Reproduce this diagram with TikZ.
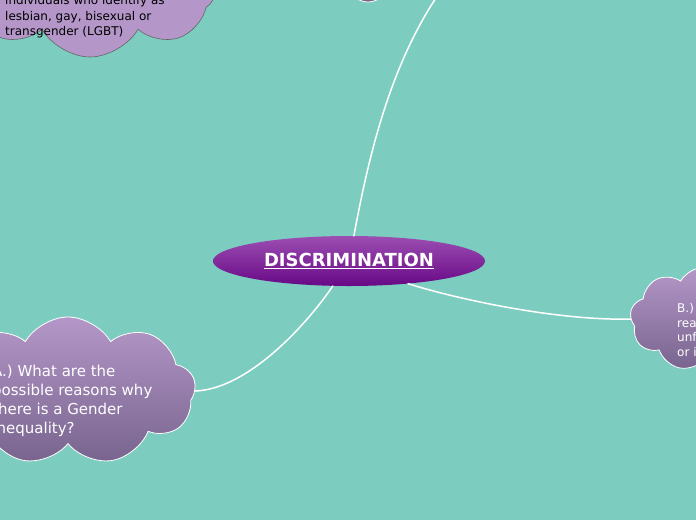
\documentclass[tikz,border=0pt]{standalone}
\usepackage{fontspec}
\setmainfont{DejaVu Sans}
\usetikzlibrary{shapes.geometric,shapes.symbols}
\definecolor{sea}{RGB}{124,205,192}
\definecolor{plumtop}{RGB}{156,78,178}
\definecolor{plumbot}{RGB}{104,8,134}
\definecolor{lilac}{RGB}{180,151,200}
\definecolor{lilacdark}{RGB}{120,100,142}
\tikzset{
  hub/.style      = {ellipse, minimum width=272pt, minimum height=50pt, top color=plumtop, bottom color=plumbot, text=white, font=\fontsize{18}{20}\selectfont\bfseries},
  puff/.style     = {cloud, cloud puffs=9, cloud puff arc=120, draw=white, line width=0.8pt, top color=lilac, bottom color=lilacdark},
  flatpuff/.style = {cloud, cloud puffs=8, cloud puff arc=120, draw=black!60, line width=0.6pt, fill=lilac},
  note/.style     = {anchor=north west, inner sep=0pt, align=left},
  branch/.style   = {draw=white, line width=1.5pt, line cap=round},
}

\begin{document}
\begin{tikzpicture}[x=1pt,y=-1pt]
    \fill[sea] (0,0) rectangle (696,520);
    \useasboundingbox (0,0) rectangle (696,520);
    \clip (0,0) rectangle (696,520);

    \node[flatpuff, minimum width=250pt, minimum height=130pt] (lgbt) at (90,-8) {};
    \node[puff, cloud puffs=12, minimum width=160pt, minimum height=86pt] (top) at (368,-41) {};
    \node[puff, minimum width=255pt, minimum height=148pt] (gender) at (68,391) {};
    \node[puff, minimum width=150pt, minimum height=104pt] (reason) at (705,319) {};
    \node[hub] (disc) at (349,261) {\raisebox{-1.5pt}{\underline{DISCRIMINATION}}};

    \node[note, font=\fontsize{12}{15.3}\selectfont] (lgbttext) at (5,-4.5) {individuals who identify as\\lesbian, gay, bisexual or\\transgender (LGBT)};
    \node[note, text=white, font=\fontsize{15}{19}\selectfont] (gendertext) at (-8,364.6) {A.) What are the\\possible reasons why\\there is a Gender\\Inequality?};
    \node[note, text=white, font=\fontsize{12}{14.5}\selectfont] (reasontext) at (677,303.4) {B.)\\rea\\unf\\or i};

    \coordinate (far) at (445,-15);
    \draw[branch] (disc.79) .. controls (368,160) and (390,60) .. (far);
    \draw[branch] (disc.-123) .. controls (310,320) and (250,389) .. (gender.east);
    \draw[branch] (disc.-21) .. controls (460,300) and (560,321) .. (reason.west);
\end{tikzpicture}
\end{document}
